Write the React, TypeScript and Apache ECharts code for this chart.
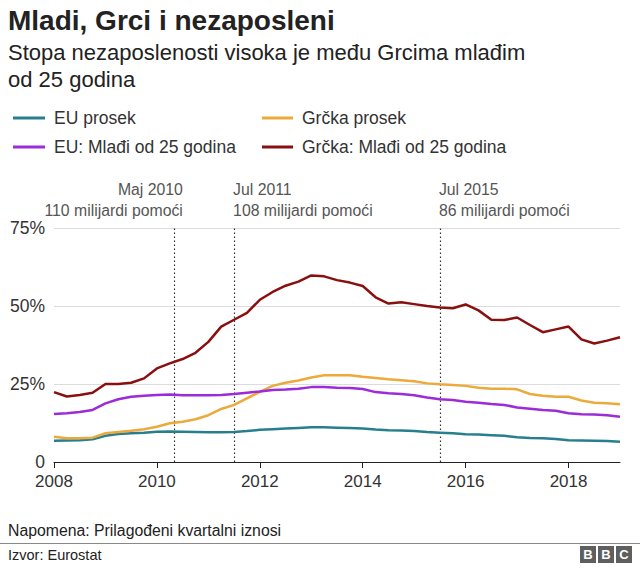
import React, { useEffect, useRef } from "react";
import * as echarts from "echarts";

const FONT = "'Liberation Sans', Arial, Helvetica, sans-serif";

const TIMES = [
  2008, 2008.25, 2008.5, 2008.75,
  2009, 2009.25, 2009.5, 2009.75,
  2010, 2010.25, 2010.5, 2010.75,
  2011, 2011.25, 2011.5, 2011.75,
  2012, 2012.25, 2012.5, 2012.75,
  2013, 2013.25, 2013.5, 2013.75,
  2014, 2014.25, 2014.5, 2014.75,
  2015, 2015.25, 2015.5, 2015.75,
  2016, 2016.25, 2016.5, 2016.75,
  2017, 2017.25, 2017.5, 2017.75,
  2018, 2018.25, 2018.5, 2018.75,
  2019,
];

const EU_AVG = [
  6.8, 6.9, 7.0, 7.3,
  8.4, 9.0, 9.2, 9.4,
  9.7, 9.8, 9.7, 9.6,
  9.5, 9.5, 9.6, 9.9,
  10.3, 10.5, 10.7, 10.9,
  11.1, 11.1, 11.0, 10.9,
  10.7, 10.4, 10.2, 10.1,
  9.9, 9.6, 9.4, 9.2,
  8.9, 8.8, 8.6, 8.4,
  7.9, 7.7, 7.6, 7.4,
  7.0, 6.9, 6.8, 6.7,
  6.5,
];

const GR_AVG = [
  8.1, 7.6, 7.6, 7.8,
  9.2, 9.6, 10.0, 10.5,
  11.3, 12.4, 12.9, 13.7,
  15.0, 17.0, 18.3, 20.4,
  22.5, 24.4, 25.4, 26.1,
  27.1, 27.8, 27.8, 27.8,
  27.3, 26.9, 26.5, 26.2,
  25.9, 25.2, 24.9, 24.7,
  24.4, 23.8, 23.5, 23.5,
  23.3, 21.8, 21.2, 20.9,
  20.9, 19.7, 19.0, 18.8,
  18.5,
];

const EU_YOUTH = [
  15.4, 15.6, 16.0, 16.7,
  18.8, 20.1, 20.9, 21.2,
  21.5, 21.6, 21.4, 21.4,
  21.4, 21.5, 21.8, 22.2,
  22.6, 23.1, 23.2, 23.5,
  24.0, 24.0, 23.8, 23.7,
  23.4, 22.4, 22.0, 21.8,
  21.4, 20.7, 20.1, 19.9,
  19.3, 19.0, 18.6, 18.3,
  17.5, 17.1, 16.7, 16.4,
  15.6, 15.3, 15.2, 15.0,
  14.5,
];

const GR_YOUTH = [
  22.4, 21.0, 21.5, 22.2,
  25.0, 25.0, 25.4, 26.8,
  30.0, 31.6, 33.0, 35.0,
  38.5, 43.4, 45.6, 47.8,
  52.0, 54.5, 56.5, 57.8,
  59.8, 59.5, 58.3, 57.5,
  56.4, 52.8, 50.8, 51.2,
  50.6, 50.0, 49.5, 49.3,
  50.5, 48.6, 45.6, 45.5,
  46.3, 43.9, 41.6, 42.5,
  43.4, 39.3, 38.0, 38.9,
  40.0,
];

const SERIES_NAMES = [
  "EU prosek",
  "Grčka prosek",
  "EU: Mlađi od 25 godina",
  "Grčka: Mlađi od 25 godina",
];
const SERIES_COLORS = ["#277f8e", "#ebaa3b", "#9c2bd8", "#8a1010"];

const X_TICKS = [2008, 2010, 2012, 2014, 2016, 2018];
const Y_TICKS = [0, 25, 50, 75];

const EVENT_X = [2010.33, 2011.5, 2015.5];
const EVENT_LINE1 = ["Maj 2010", "Jul 2011", "Jul 2015"];
const EVENT_LINE2 = ["110 milijardi pomoći", "108 milijardi pomoći", "86 milijardi pomoći"];

const TITLE = "Mladi, Grci i nezaposleni";
const SUBTITLE = ["Stopa nezaposlenosti visoka je među Grcima mlađim", "od 25 godina"];
const NOTE = "Napomena: Prilagođeni kvartalni iznosi";
const SOURCE = "Izvor: Eurostat";

export default function App() {
  const ref = useRef<HTMLDivElement>(null);

  useEffect(() => {
    if (!ref.current) return;
    const chart = echarts.init(ref.current, null, { renderer: "svg" });
    const valueSets = [EU_AVG, GR_AVG, EU_YOUTH, GR_YOUTH];

    const series: any[] = valueSets.map((vals, i) => ({
      name: SERIES_NAMES[i],
      type: "line",
      color: SERIES_COLORS[i],
      showSymbol: false,
      symbol: "none",
      lineStyle: { width: 2.5, color: SERIES_COLORS[i] },
      data: TIMES.map((t, k) => [t, vals[k]]),
      z: 3 + i,
    }));
    series[0].markLine = {
      silent: true,
      symbol: ["none", "none"],
      label: { show: false },
      lineStyle: { type: [1.5, 2.5], color: "#333", width: 1.2 },
      data: EVENT_X.map((x) => ({ xAxis: x })),
      z: 2,
    };

    const legendText = { fontSize: 17.5, color: "#333", fontFamily: FONT, lineHeight: 18, padding: [0, 0, 0, 4] };

    chart.setOption({
      animation: false,
      textStyle: { fontFamily: FONT },
      grid: { left: 54, right: 20, top: 228, bottom: 106, containLabel: false },
      legend: [
        {
          left: 8, top: 104, orient: "vertical", icon: "rect", itemWidth: 32, itemHeight: 3,
          itemGap: 11, selectedMode: false, data: [SERIES_NAMES[0], SERIES_NAMES[2]], textStyle: legendText,
        },
        {
          left: 257, top: 104, orient: "vertical", icon: "rect", itemWidth: 31, itemHeight: 3,
          itemGap: 11, selectedMode: false, data: [SERIES_NAMES[1], SERIES_NAMES[3]], textStyle: legendText,
        },
      ],
      xAxis: {
        type: "value",
        min: 2008,
        max: 2019,
        interval: 2,
        axisLine: { show: true, lineStyle: { color: "#222", width: 1 } },
        axisTick: { show: true, length: 6, lineStyle: { color: "#222" }, customValues: X_TICKS },
        axisLabel: {
          customValues: X_TICKS,
          formatter: (v: number) => String(v),
          fontSize: 17, color: "#333", margin: 11, fontFamily: FONT,
        },
        splitLine: { show: false },
      },
      yAxis: {
        type: "value",
        min: 0,
        max: 75,
        interval: 25,
        axisLine: { show: false },
        axisTick: { show: false },
        axisLabel: {
          formatter: (v: number) => (v === 0 ? "0" : v + "%"),
          fontSize: 17.5, color: "#333", margin: 9, fontFamily: FONT,
          customValues: Y_TICKS,
        },
        splitLine: { show: true, lineStyle: { color: "#dcdcdc", width: 1 } },
      },
      series,
    });

    const graphics: any[] = [
      { type: "text", x: 8, y: 20, style: { text: TITLE, font: `bold 28px ${FONT}`, fill: "#222", verticalAlign: "middle" } },
      { type: "text", x: 8, y: 52, style: { text: SUBTITLE[0], font: `22px ${FONT}`, fill: "#222", verticalAlign: "middle" } },
      { type: "text", x: 8, y: 79, style: { text: SUBTITLE[1], font: `22px ${FONT}`, fill: "#222", verticalAlign: "middle" } },
      { type: "text", x: 8, y: 530, style: { text: NOTE, font: `15.8px ${FONT}`, fill: "#222", verticalAlign: "middle" } },
      { type: "line", shape: { x1: 0, y1: 543.5, x2: 640, y2: 543.5 }, style: { stroke: "#888", lineWidth: 1 } },
      { type: "text", x: 8, y: 555, style: { text: SOURCE, font: `14.5px ${FONT}`, fill: "#222", verticalAlign: "middle" } },
    ];
    ["B", "B", "C"].forEach((ch, i) => {
      const bx = 580 + i * 18;
      graphics.push({ type: "rect", shape: { x: bx, y: 546, width: 16, height: 17 }, style: { fill: "#5f5f5f" } });
      graphics.push({
        type: "text", x: bx + 8, y: 554.5,
        style: { text: ch, font: `bold 13px ${FONT}`, fill: "#fff", align: "center", verticalAlign: "middle" },
      });
    });
    EVENT_X.forEach((ex, i) => {
      const px = chart.convertToPixel({ xAxisIndex: 0 }, ex) as number;
      const alignRight = i === 0;
      const tx = alignRight ? px + 9 : px - 1;
      const align = alignRight ? "right" : "left";
      graphics.push({
        type: "text", x: tx, y: 189,
        style: { text: EVENT_LINE1[i], font: `15.8px ${FONT}`, fill: "#555", align, verticalAlign: "middle" },
      });
      graphics.push({
        type: "text", x: tx, y: 210,
        style: { text: EVENT_LINE2[i], font: `15.8px ${FONT}`, fill: "#555", align, verticalAlign: "middle" },
      });
    });
    chart.setOption({ graphic: graphics });

    return () => chart.dispose();
  }, []);

  return (
    <div
      ref={ref}
      style={{ position: "absolute", left: 0, top: 0, width: 640, height: 568, background: "#fff" }}
    />
  );
}
